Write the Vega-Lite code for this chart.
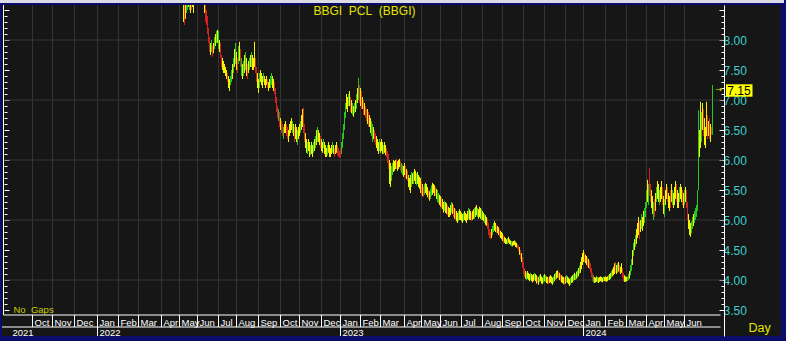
{
"$schema": "https://vega.github.io/schema/vega-lite/v6.json",
"width": 779, "height": 331,
"autosize": {"type": "none"},
"padding": {"left": 2, "top": 5, "right": 5, "bottom": 5},
"background": "#0c0c6c",
"config": {"view": {"fill": "#161616", "stroke": null}, "text": {"font": "Liberation Sans"}},
"datasets": {
"one": [{}],
"grid": [{"p":4},{"p":5},{"p":6},{"p":7},{"p":8}],
"months": [{"m":"Oct","b":32},{"m":"Nov","b":52},{"m":"Dec","b":74},{"m":"Jan","b":97},{"m":"Feb","b":118},{"m":"Mar","b":138},{"m":"Apr","b":161},{"m":"May","b":179},{"m":"Jun","b":197},{"m":"Jul","b":218},{"m":"Aug","b":236},{"m":"Sep","b":258},{"m":"Oct","b":280},{"m":"Nov","b":299},{"m":"Dec","b":321},{"m":"Jan","b":340},{"m":"Feb","b":360},{"m":"Mar","b":380},{"m":"Apr","b":404},{"m":"May","b":421},{"m":"Jun","b":440},{"m":"Jul","b":461},{"m":"Aug","b":482},{"m":"Sep","b":502},{"m":"Oct","b":523},{"m":"Nov","b":544},{"m":"Dec","b":565},{"m":"Jan","b":583},{"m":"Feb","b":605},{"m":"Mar","b":626},{"m":"Apr","b":646},{"m":"May","b":664},{"m":"Jun","b":684}],
"years": [{"yr":"2021","b":10},{"yr":"2022","b":97},{"yr":"2023","b":340},{"yr":"2024","b":583}],
"bars": [
{"d":183,"h":8.8,"l":8.3,"c":"y"},{"d":184,"h":8.75,"l":8.25,"c":"r"},{"d":185,"h":8.7,"l":8.35,"c":"y"},{"d":186,"h":8.8,"l":8.45,"c":"g"},{"d":187,"h":8.9,"l":8.5,"c":"g"},{"d":188,"h":8.75,"l":8.55,"c":"y"},{"d":189,"h":8.8,"l":8.5,"c":"g"},{"d":190,"h":8.9,"l":8.45,"c":"y"},{"d":191,"h":8.85,"l":8.5,"c":"r"},{"d":192,"h":8.95,"l":8.55,"c":"y"},{"d":193,"h":8.9,"l":8.45,"c":"y"},{"d":194,"h":9.0,"l":8.6,"c":"g"},{"d":195,"h":9.1,"l":8.7,"c":"y"},
{"d":204,"h":8.9,"l":8.45,"c":"y"},{"d":205,"h":8.75,"l":8.3,"c":"r"},{"d":206,"h":8.5,"l":8.25,"c":"r"},{"d":207,"h":8.4,"l":8.1,"c":"r"},{"d":208,"h":8.2,"l":7.95,"c":"r"},{"d":209,"h":8.05,"l":7.8,"c":"r"},
{"d":210,"h":7.95,"l":7.75,"c":"y"},{"d":211,"h":8.0,"l":7.8,"c":"g"},{"d":212,"h":7.9,"l":7.72,"c":"r"},{"d":213,"h":7.95,"l":7.78,"c":"y"},{"d":214,"h":8.05,"l":7.85,"c":"g"},{"d":215,"h":8.1,"l":7.9,"c":"y"},{"d":216,"h":8.15,"l":7.95,"c":"g"},{"d":217,"h":8.17,"l":7.95,"c":"y"},{"d":218,"h":8.15,"l":7.85,"c":"g"},{"d":219,"h":8.0,"l":7.8,"c":"y"},{"d":220,"h":7.95,"l":7.7,"c":"r"},
{"d":221,"h":7.75,"l":7.55,"c":"r"},{"d":222,"h":7.7,"l":7.5,"c":"y"},{"d":223,"h":7.65,"l":7.45,"c":"y"},{"d":224,"h":7.6,"l":7.45,"c":"y"},{"d":225,"h":7.55,"l":7.4,"c":"y"},{"d":226,"h":7.5,"l":7.35,"c":"y"},{"d":227,"h":7.45,"l":7.3,"c":"r"},{"d":228,"h":7.4,"l":7.2,"c":"y"},{"d":229,"h":7.35,"l":7.15,"c":"y"},{"d":230,"h":7.4,"l":7.25,"c":"g"},{"d":231,"h":7.5,"l":7.3,"c":"g"},
{"d":232,"h":7.6,"l":7.35,"c":"y"},{"d":233,"h":7.7,"l":7.45,"c":"g"},{"d":234,"h":7.85,"l":7.55,"c":"y"},{"d":235,"h":7.95,"l":7.6,"c":"g"},{"d":236,"h":7.8,"l":7.5,"c":"y"},{"d":237,"h":7.7,"l":7.45,"c":"r"},{"d":238,"h":7.9,"l":7.6,"c":"g"},{"d":239,"h":7.97,"l":7.65,"c":"y"},{"d":240,"h":7.85,"l":7.55,"c":"r"},{"d":241,"h":7.7,"l":7.4,"c":"g"},{"d":242,"h":7.6,"l":7.35,"c":"y"},{"d":243,"h":7.65,"l":7.4,"c":"g"},
{"d":244,"h":7.75,"l":7.45,"c":"y"},{"d":245,"h":7.8,"l":7.5,"c":"g"},{"d":246,"h":7.7,"l":7.4,"c":"y"},{"d":247,"h":7.6,"l":7.35,"c":"r"},{"d":248,"h":7.65,"l":7.45,"c":"y"},{"d":249,"h":7.7,"l":7.5,"c":"g"},{"d":250,"h":7.75,"l":7.55,"c":"y"},{"d":251,"h":7.8,"l":7.55,"c":"g"},{"d":252,"h":7.75,"l":7.5,"c":"y"},{"d":253,"h":7.7,"l":7.5,"c":"y"},{"d":254,"h":7.97,"l":7.55,"c":"y"},{"d":255,"h":7.7,"l":7.45,"c":"r"},{"d":256,"h":7.55,"l":7.3,"c":"r"},{"d":257,"h":7.45,"l":7.2,"c":"y"},{"d":258,"h":7.35,"l":7.12,"c":"y"},
{"d":259,"h":7.45,"l":7.2,"c":"g"},{"d":260,"h":7.5,"l":7.3,"c":"y"},{"d":261,"h":7.45,"l":7.25,"c":"y"},{"d":262,"h":7.4,"l":7.2,"c":"y"},{"d":263,"h":7.45,"l":7.3,"c":"g"},{"d":264,"h":7.4,"l":7.25,"c":"y"},{"d":265,"h":7.35,"l":7.2,"c":"y"},{"d":266,"h":7.4,"l":7.25,"c":"y"},{"d":267,"h":7.35,"l":7.2,"c":"r"},{"d":268,"h":7.3,"l":7.15,"c":"y"},{"d":269,"h":7.35,"l":7.2,"c":"y"},{"d":270,"h":7.4,"l":7.2,"c":"g"},{"d":271,"h":7.45,"l":7.25,"c":"g"},{"d":272,"h":7.4,"l":7.2,"c":"y"},{"d":273,"h":7.35,"l":7.15,"c":"y"},{"d":274,"h":7.3,"l":7.1,"c":"r"},
{"d":275,"h":7.2,"l":6.95,"c":"r"},{"d":276,"h":7.05,"l":6.8,"c":"r"},{"d":277,"h":6.9,"l":6.7,"c":"r"},{"d":278,"h":6.85,"l":6.65,"c":"g"},{"d":279,"h":6.8,"l":6.55,"c":"r"},{"d":280,"h":6.7,"l":6.5,"c":"y"},{"d":281,"h":6.65,"l":6.45,"c":"r"},{"d":282,"h":6.6,"l":6.4,"c":"r"},{"d":283,"h":6.55,"l":6.35,"c":"g"},{"d":284,"h":6.6,"l":6.45,"c":"y"},{"d":285,"h":6.65,"l":6.45,"c":"y"},{"d":286,"h":6.6,"l":6.4,"c":"r"},{"d":287,"h":6.55,"l":6.35,"c":"r"},{"d":288,"h":6.5,"l":6.3,"c":"y"},
{"d":289,"h":6.6,"l":6.4,"c":"y"},{"d":290,"h":6.65,"l":6.45,"c":"y"},{"d":291,"h":6.7,"l":6.5,"c":"y"},{"d":292,"h":6.65,"l":6.45,"c":"g"},{"d":293,"h":6.6,"l":6.4,"c":"y"},{"d":294,"h":6.55,"l":6.3,"c":"r"},{"d":295,"h":6.6,"l":6.35,"c":"y"},{"d":296,"h":6.55,"l":6.3,"c":"y"},{"d":297,"h":6.5,"l":6.25,"c":"g"},{"d":298,"h":6.55,"l":6.35,"c":"y"},{"d":299,"h":6.6,"l":6.4,"c":"y"},{"d":300,"h":6.65,"l":6.45,"c":"g"},{"d":301,"h":6.75,"l":6.5,"c":"y"},{"d":302,"h":6.85,"l":6.55,"c":"y"},{"d":303,"h":6.87,"l":6.45,"c":"r"},{"d":304,"h":6.6,"l":6.3,"c":"r"},
{"d":305,"h":6.45,"l":6.2,"c":"y"},{"d":306,"h":6.35,"l":6.12,"c":"y"},{"d":307,"h":6.3,"l":6.1,"c":"g"},{"d":308,"h":6.35,"l":6.15,"c":"y"},{"d":309,"h":6.3,"l":6.05,"c":"y"},{"d":310,"h":6.25,"l":6.08,"c":"g"},{"d":311,"h":6.3,"l":6.1,"c":"y"},{"d":312,"h":6.25,"l":6.05,"c":"y"},{"d":313,"h":6.3,"l":6.12,"c":"g"},{"d":314,"h":6.35,"l":6.15,"c":"y"},{"d":315,"h":6.4,"l":6.2,"c":"g"},{"d":316,"h":6.5,"l":6.25,"c":"y"},{"d":317,"h":6.55,"l":6.3,"c":"g"},{"d":318,"h":6.5,"l":6.3,"c":"y"},{"d":319,"h":6.45,"l":6.25,"c":"y"},{"d":320,"h":6.4,"l":6.2,"c":"r"},
{"d":321,"h":6.35,"l":6.15,"c":"y"},{"d":322,"h":6.3,"l":6.12,"c":"y"},{"d":323,"h":6.35,"l":6.2,"c":"g"},{"d":324,"h":6.3,"l":6.1,"c":"y"},{"d":325,"h":6.25,"l":6.05,"c":"y"},{"d":326,"h":6.2,"l":6.05,"c":"y"},{"d":327,"h":6.25,"l":6.08,"c":"g"},{"d":328,"h":6.3,"l":6.12,"c":"y"},{"d":329,"h":6.25,"l":6.05,"c":"y"},{"d":330,"h":6.2,"l":6.05,"c":"y"},{"d":331,"h":6.25,"l":6.1,"c":"y"},{"d":332,"h":6.3,"l":6.12,"c":"g"},{"d":333,"h":6.25,"l":6.1,"c":"y"},{"d":334,"h":6.2,"l":6.05,"c":"r"},{"d":335,"h":6.25,"l":6.1,"c":"y"},{"d":336,"h":6.3,"l":6.12,"c":"y"},{"d":337,"h":6.25,"l":6.08,"c":"r"},{"d":338,"h":6.2,"l":6.05,"c":"r"},{"d":339,"h":6.15,"l":6.03,"c":"r"},{"d":340,"h":6.2,"l":6.05,"c":"r"},
{"d":341,"h":6.3,"l":6.1,"c":"g"},{"d":342,"h":6.45,"l":6.2,"c":"g"},{"d":343,"h":6.6,"l":6.35,"c":"g"},{"d":344,"h":6.8,"l":6.5,"c":"g"},{"d":345,"h":6.95,"l":6.7,"c":"g"},{"d":346,"h":7.1,"l":6.85,"c":"y"},{"d":347,"h":7.05,"l":6.8,"c":"y"},{"d":348,"h":7.1,"l":6.9,"c":"g"},{"d":349,"h":7.15,"l":6.9,"c":"y"},{"d":350,"h":7.05,"l":6.8,"c":"r"},{"d":351,"h":7.0,"l":6.78,"c":"y"},{"d":352,"h":6.95,"l":6.75,"c":"g"},{"d":353,"h":6.9,"l":6.72,"c":"y"},{"d":354,"h":6.95,"l":6.78,"c":"g"},{"d":355,"h":7.0,"l":6.8,"c":"y"},{"d":356,"h":7.1,"l":6.85,"c":"g"},{"d":357,"h":7.2,"l":6.95,"c":"y"},{"d":358,"h":7.37,"l":7.0,"c":"g"},{"d":359,"h":7.25,"l":6.95,"c":"r"},{"d":360,"h":7.2,"l":6.9,"c":"y"},
{"d":361,"h":7.15,"l":6.85,"c":"r"},{"d":362,"h":7.05,"l":6.85,"c":"y"},{"d":363,"h":7.0,"l":6.75,"c":"r"},{"d":364,"h":6.95,"l":6.75,"c":"y"},{"d":365,"h":6.9,"l":6.7,"c":"r"},{"d":366,"h":6.85,"l":6.65,"c":"r"},{"d":367,"h":6.85,"l":6.6,"c":"y"},{"d":368,"h":6.8,"l":6.55,"c":"r"},{"d":369,"h":6.75,"l":6.55,"c":"y"},{"d":370,"h":6.7,"l":6.45,"c":"y"},{"d":371,"h":6.65,"l":6.4,"c":"g"},{"d":372,"h":6.6,"l":6.3,"c":"g"},{"d":373,"h":6.55,"l":6.35,"c":"y"},{"d":374,"h":6.5,"l":6.3,"c":"r"},{"d":375,"h":6.45,"l":6.25,"c":"r"},{"d":376,"h":6.4,"l":6.2,"c":"y"},{"d":377,"h":6.35,"l":6.15,"c":"y"},{"d":378,"h":6.3,"l":6.1,"c":"y"},{"d":379,"h":6.35,"l":6.15,"c":"g"},{"d":380,"h":6.3,"l":6.12,"c":"y"},
{"d":381,"h":6.35,"l":6.15,"c":"y"},{"d":382,"h":6.3,"l":6.1,"c":"y"},{"d":383,"h":6.25,"l":6.1,"c":"g"},{"d":384,"h":6.3,"l":6.12,"c":"y"},{"d":385,"h":6.25,"l":6.08,"c":"y"},{"d":386,"h":6.2,"l":6.05,"c":"r"},{"d":387,"h":6.15,"l":5.95,"c":"r"},{"d":388,"h":6.1,"l":5.85,"c":"r"},{"d":389,"h":6.0,"l":5.6,"c":"y"},{"d":390,"h":5.95,"l":5.55,"c":"y"},{"d":391,"h":5.9,"l":5.65,"c":"g"},{"d":392,"h":5.95,"l":5.75,"c":"g"},{"d":393,"h":6.0,"l":5.8,"c":"y"},{"d":394,"h":5.98,"l":5.82,"c":"y"},{"d":395,"h":6.0,"l":5.85,"c":"y"},{"d":396,"h":6.02,"l":5.85,"c":"r"},{"d":397,"h":5.98,"l":5.82,"c":"y"},{"d":398,"h":6.0,"l":5.85,"c":"y"},{"d":399,"h":6.02,"l":5.88,"c":"y"},{"d":400,"h":5.98,"l":5.82,"c":"r"},
{"d":401,"h":5.95,"l":5.78,"c":"g"},{"d":402,"h":5.92,"l":5.75,"c":"g"},{"d":403,"h":5.9,"l":5.72,"c":"y"},{"d":404,"h":5.95,"l":5.75,"c":"y"},{"d":405,"h":5.9,"l":5.7,"c":"r"},{"d":406,"h":5.85,"l":5.68,"c":"y"},{"d":407,"h":5.82,"l":5.65,"c":"r"},{"d":408,"h":5.75,"l":5.55,"c":"y"},{"d":409,"h":5.7,"l":5.5,"c":"y"},{"d":410,"h":5.75,"l":5.45,"c":"y"},{"d":411,"h":5.8,"l":5.55,"c":"g"},{"d":412,"h":5.78,"l":5.6,"c":"y"},{"d":413,"h":5.8,"l":5.6,"c":"g"},{"d":414,"h":5.85,"l":5.65,"c":"y"},{"d":415,"h":5.82,"l":5.6,"c":"y"},{"d":416,"h":5.78,"l":5.58,"c":"g"},{"d":417,"h":5.8,"l":5.6,"c":"y"},{"d":418,"h":5.75,"l":5.55,"c":"y"},{"d":419,"h":5.72,"l":5.52,"c":"y"},{"d":420,"h":5.7,"l":5.45,"c":"y"},
{"d":421,"h":5.65,"l":5.42,"c":"r"},{"d":422,"h":5.6,"l":5.4,"c":"y"},{"d":423,"h":5.55,"l":5.38,"c":"r"},{"d":424,"h":5.6,"l":5.42,"c":"g"},{"d":425,"h":5.62,"l":5.45,"c":"y"},{"d":426,"h":5.6,"l":5.42,"c":"y"},{"d":427,"h":5.55,"l":5.38,"c":"y"},{"d":428,"h":5.5,"l":5.35,"c":"r"},{"d":429,"h":5.48,"l":5.32,"c":"y"},{"d":430,"h":5.52,"l":5.35,"c":"g"},{"d":431,"h":5.58,"l":5.4,"c":"g"},{"d":432,"h":5.62,"l":5.42,"c":"y"},{"d":433,"h":5.6,"l":5.45,"c":"y"},{"d":434,"h":5.58,"l":5.4,"c":"y"},{"d":435,"h":5.55,"l":5.4,"c":"r"},{"d":436,"h":5.52,"l":5.35,"c":"y"},{"d":437,"h":5.5,"l":5.3,"c":"g"},{"d":438,"h":5.45,"l":5.28,"c":"g"},{"d":439,"h":5.42,"l":5.25,"c":"y"},{"d":440,"h":5.4,"l":5.22,"c":"y"},
{"d":441,"h":5.38,"l":5.2,"c":"r"},{"d":442,"h":5.35,"l":5.18,"c":"y"},{"d":443,"h":5.3,"l":5.12,"c":"y"},{"d":444,"h":5.32,"l":5.15,"c":"g"},{"d":445,"h":5.3,"l":5.12,"c":"y"},{"d":446,"h":5.28,"l":5.1,"c":"y"},{"d":447,"h":5.25,"l":5.08,"c":"r"},{"d":448,"h":5.22,"l":5.05,"c":"y"},{"d":449,"h":5.2,"l":5.05,"c":"y"},{"d":450,"h":5.25,"l":5.08,"c":"y"},{"d":451,"h":5.3,"l":5.12,"c":"g"},{"d":452,"h":5.28,"l":5.1,"c":"y"},{"d":453,"h":5.25,"l":5.05,"c":"r"},{"d":454,"h":5.2,"l":5.02,"c":"y"},{"d":455,"h":5.18,"l":5.0,"c":"r"},{"d":456,"h":5.15,"l":4.98,"c":"y"},{"d":457,"h":5.12,"l":4.95,"c":"y"},{"d":458,"h":5.15,"l":4.98,"c":"g"},{"d":459,"h":5.18,"l":5.0,"c":"y"},{"d":460,"h":5.15,"l":5.0,"c":"y"},
{"d":461,"h":5.12,"l":4.98,"c":"y"},{"d":462,"h":5.1,"l":4.95,"c":"y"},{"d":463,"h":5.12,"l":4.98,"c":"g"},{"d":464,"h":5.15,"l":5.0,"c":"y"},{"d":465,"h":5.12,"l":4.98,"c":"y"},{"d":466,"h":5.1,"l":4.95,"c":"y"},{"d":467,"h":5.15,"l":5.0,"c":"y"},{"d":468,"h":5.2,"l":5.02,"c":"g"},{"d":469,"h":5.18,"l":5.0,"c":"y"},{"d":470,"h":5.15,"l":5.0,"c":"y"},{"d":471,"h":5.12,"l":4.98,"c":"r"},{"d":472,"h":5.15,"l":5.0,"c":"y"},{"d":473,"h":5.18,"l":5.02,"c":"y"},{"d":474,"h":5.2,"l":5.02,"c":"g"},{"d":475,"h":5.22,"l":5.05,"c":"y"},{"d":476,"h":5.25,"l":5.08,"c":"y"},{"d":477,"h":5.2,"l":5.05,"c":"g"},{"d":478,"h":5.18,"l":5.02,"c":"y"},{"d":479,"h":5.22,"l":5.05,"c":"y"},{"d":480,"h":5.2,"l":5.02,"c":"y"},
{"d":481,"h":5.18,"l":5.0,"c":"g"},{"d":482,"h":5.15,"l":5.0,"c":"y"},{"d":483,"h":5.12,"l":4.98,"c":"y"},{"d":484,"h":5.1,"l":4.95,"c":"g"},{"d":485,"h":5.08,"l":4.92,"c":"y"},{"d":486,"h":5.05,"l":4.9,"c":"y"},{"d":487,"h":5.02,"l":4.85,"c":"r"},{"d":488,"h":4.95,"l":4.75,"c":"r"},{"d":489,"h":4.85,"l":4.7,"c":"r"},{"d":490,"h":4.8,"l":4.68,"c":"r"},{"d":491,"h":4.85,"l":4.7,"c":"y"},{"d":492,"h":4.9,"l":4.75,"c":"g"},{"d":493,"h":4.95,"l":4.8,"c":"g"},{"d":494,"h":4.98,"l":4.82,"c":"y"},{"d":495,"h":4.95,"l":4.8,"c":"y"},{"d":496,"h":4.92,"l":4.78,"c":"r"},{"d":497,"h":4.9,"l":4.78,"c":"y"},{"d":498,"h":4.88,"l":4.75,"c":"y"},{"d":499,"h":4.85,"l":4.72,"c":"r"},{"d":500,"h":4.82,"l":4.7,"c":"y"},
{"d":501,"h":4.8,"l":4.68,"c":"y"},{"d":502,"h":4.78,"l":4.65,"c":"y"},{"d":503,"h":4.75,"l":4.62,"c":"r"},{"d":504,"h":4.72,"l":4.62,"c":"y"},{"d":505,"h":4.7,"l":4.6,"c":"y"},{"d":506,"h":4.68,"l":4.6,"c":"y"},{"d":507,"h":4.7,"l":4.6,"c":"g"},{"d":508,"h":4.72,"l":4.62,"c":"y"},{"d":509,"h":4.68,"l":4.6,"c":"y"},{"d":510,"h":4.66,"l":4.58,"c":"y"},{"d":511,"h":4.65,"l":4.56,"c":"g"},{"d":512,"h":4.64,"l":4.56,"c":"y"},{"d":513,"h":4.65,"l":4.58,"c":"y"},{"d":514,"h":4.66,"l":4.58,"c":"y"},{"d":515,"h":4.64,"l":4.55,"c":"y"},{"d":516,"h":4.62,"l":4.54,"c":"y"},{"d":517,"h":4.6,"l":4.52,"c":"r"},{"d":518,"h":4.58,"l":4.48,"c":"r"},{"d":519,"h":4.55,"l":4.42,"c":"y"},{"d":520,"h":4.5,"l":4.35,"c":"r"},
{"d":521,"h":4.45,"l":4.3,"c":"y"},{"d":522,"h":4.38,"l":4.2,"c":"r"},{"d":523,"h":4.3,"l":4.1,"c":"r"},{"d":524,"h":4.2,"l":4.05,"c":"r"},{"d":525,"h":4.15,"l":4.02,"c":"y"},{"d":526,"h":4.12,"l":4.0,"c":"g"},{"d":527,"h":4.15,"l":4.02,"c":"y"},{"d":528,"h":4.12,"l":4.0,"c":"y"},{"d":529,"h":4.1,"l":3.98,"c":"y"},{"d":530,"h":4.12,"l":4.0,"c":"g"},{"d":531,"h":4.1,"l":3.98,"c":"y"},{"d":532,"h":4.08,"l":3.96,"c":"y"},{"d":533,"h":4.1,"l":3.98,"c":"y"},{"d":534,"h":4.12,"l":4.0,"c":"g"},{"d":535,"h":4.1,"l":3.98,"c":"y"},{"d":536,"h":4.08,"l":3.94,"c":"y"},{"d":537,"h":4.06,"l":3.95,"c":"r"},{"d":538,"h":4.05,"l":3.92,"c":"y"},{"d":539,"h":4.08,"l":3.96,"c":"g"},{"d":540,"h":4.1,"l":3.98,"c":"y"},
{"d":541,"h":4.06,"l":3.94,"c":"y"},{"d":542,"h":4.04,"l":3.93,"c":"y"},{"d":543,"h":4.08,"l":3.96,"c":"g"},{"d":544,"h":4.1,"l":3.98,"c":"y"},{"d":545,"h":4.08,"l":3.97,"c":"g"},{"d":546,"h":4.06,"l":3.95,"c":"y"},{"d":547,"h":4.05,"l":3.94,"c":"y"},{"d":548,"h":4.04,"l":3.93,"c":"r"},{"d":549,"h":4.06,"l":3.95,"c":"y"},{"d":550,"h":4.08,"l":3.96,"c":"y"},{"d":551,"h":4.06,"l":3.94,"c":"y"},{"d":552,"h":4.04,"l":3.92,"c":"y"},{"d":553,"h":4.06,"l":3.95,"c":"g"},{"d":554,"h":4.1,"l":3.98,"c":"y"},{"d":555,"h":4.12,"l":4.0,"c":"g"},{"d":556,"h":4.15,"l":4.02,"c":"y"},{"d":557,"h":4.16,"l":4.04,"c":"y"},{"d":558,"h":4.14,"l":4.02,"c":"r"},{"d":559,"h":4.12,"l":4.0,"c":"y"},{"d":560,"h":4.1,"l":3.98,"c":"r"},
{"d":561,"h":4.08,"l":3.96,"c":"y"},{"d":562,"h":4.06,"l":3.95,"c":"y"},{"d":563,"h":4.05,"l":3.93,"c":"y"},{"d":564,"h":4.04,"l":3.92,"c":"r"},{"d":565,"h":4.06,"l":3.94,"c":"y"},{"d":566,"h":4.08,"l":3.96,"c":"g"},{"d":567,"h":4.06,"l":3.95,"c":"y"},{"d":568,"h":4.04,"l":3.93,"c":"y"},{"d":569,"h":4.02,"l":3.9,"c":"y"},{"d":570,"h":4.04,"l":3.92,"c":"g"},{"d":571,"h":4.06,"l":3.95,"c":"y"},{"d":572,"h":4.08,"l":3.96,"c":"y"},{"d":573,"h":4.1,"l":3.98,"c":"g"},{"d":574,"h":4.12,"l":4.0,"c":"y"},{"d":575,"h":4.1,"l":4.0,"c":"g"},{"d":576,"h":4.14,"l":4.02,"c":"y"},{"d":577,"h":4.16,"l":4.04,"c":"g"},{"d":578,"h":4.2,"l":4.06,"c":"y"},{"d":579,"h":4.24,"l":4.1,"c":"g"},{"d":580,"h":4.3,"l":4.12,"c":"y"},
{"d":581,"h":4.38,"l":4.18,"c":"y"},{"d":582,"h":4.45,"l":4.25,"c":"y"},{"d":583,"h":4.5,"l":4.3,"c":"y"},{"d":584,"h":4.46,"l":4.3,"c":"r"},{"d":585,"h":4.42,"l":4.28,"c":"y"},{"d":586,"h":4.4,"l":4.25,"c":"y"},{"d":587,"h":4.38,"l":4.22,"c":"r"},{"d":588,"h":4.35,"l":4.2,"c":"y"},{"d":589,"h":4.32,"l":4.18,"c":"r"},{"d":590,"h":4.28,"l":4.12,"c":"r"},{"d":591,"h":4.2,"l":4.04,"c":"r"},{"d":592,"h":4.12,"l":3.98,"c":"r"},{"d":593,"h":4.08,"l":3.96,"c":"g"},{"d":594,"h":4.05,"l":3.95,"c":"y"},{"d":595,"h":4.04,"l":3.96,"c":"y"},{"d":596,"h":4.06,"l":3.97,"c":"y"},{"d":597,"h":4.05,"l":3.96,"c":"g"},{"d":598,"h":4.04,"l":3.95,"c":"y"},{"d":599,"h":4.05,"l":3.97,"c":"y"},{"d":600,"h":4.06,"l":3.98,"c":"y"},
{"d":601,"h":4.05,"l":3.97,"c":"y"},{"d":602,"h":4.04,"l":3.96,"c":"y"},{"d":603,"h":4.06,"l":3.98,"c":"g"},{"d":604,"h":4.05,"l":3.98,"c":"y"},{"d":605,"h":4.06,"l":3.98,"c":"y"},{"d":606,"h":4.05,"l":3.97,"c":"y"},{"d":607,"h":4.06,"l":3.98,"c":"y"},{"d":608,"h":4.08,"l":4.0,"c":"g"},{"d":609,"h":4.1,"l":4.0,"c":"y"},{"d":610,"h":4.12,"l":4.02,"c":"y"},{"d":611,"h":4.15,"l":4.04,"c":"g"},{"d":612,"h":4.18,"l":4.06,"c":"y"},{"d":613,"h":4.22,"l":4.08,"c":"y"},{"d":614,"h":4.28,"l":4.1,"c":"y"},{"d":615,"h":4.3,"l":4.12,"c":"r"},{"d":616,"h":4.25,"l":4.1,"c":"y"},{"d":617,"h":4.28,"l":4.12,"c":"g"},{"d":618,"h":4.3,"l":4.14,"c":"y"},{"d":619,"h":4.25,"l":4.12,"c":"r"},{"d":620,"h":4.22,"l":4.1,"c":"y"},
{"d":621,"h":4.28,"l":4.12,"c":"y"},{"d":622,"h":4.2,"l":4.04,"c":"r"},{"d":623,"h":4.12,"l":3.98,"c":"r"},{"d":624,"h":4.08,"l":3.97,"c":"y"},{"d":625,"h":4.06,"l":3.97,"c":"y"},{"d":626,"h":4.05,"l":3.98,"c":"y"},{"d":627,"h":4.06,"l":3.98,"c":"g"},{"d":628,"h":4.1,"l":4.0,"c":"g"},{"d":629,"h":4.15,"l":4.02,"c":"y"},{"d":630,"h":4.25,"l":4.08,"c":"g"},{"d":631,"h":4.35,"l":4.15,"c":"g"},{"d":632,"h":4.5,"l":4.25,"c":"y"},{"d":633,"h":4.62,"l":4.4,"c":"g"},{"d":634,"h":4.68,"l":4.5,"c":"y"},{"d":635,"h":4.75,"l":4.55,"c":"g"},{"d":636,"h":4.85,"l":4.6,"c":"y"},{"d":637,"h":4.95,"l":4.7,"c":"y"},{"d":638,"h":5.05,"l":4.75,"c":"y"},{"d":639,"h":4.98,"l":4.68,"c":"r"},{"d":640,"h":5.0,"l":4.8,"c":"y"},
{"d":641,"h":5.1,"l":4.85,"c":"g"},{"d":642,"h":5.05,"l":4.82,"c":"y"},{"d":643,"h":5.15,"l":4.9,"c":"y"},{"d":644,"h":5.2,"l":4.95,"c":"g"},{"d":645,"h":5.3,"l":5.05,"c":"g"},{"d":646,"h":5.5,"l":5.2,"c":"g"},{"d":647,"h":5.67,"l":5.3,"c":"y"},{"d":648,"h":5.6,"l":5.25,"c":"g"},{"d":649,"h":5.87,"l":5.4,"c":"r"},{"d":650,"h":5.6,"l":5.3,"c":"r"},{"d":651,"h":5.5,"l":5.2,"c":"y"},{"d":652,"h":5.4,"l":5.1,"c":"y"},{"d":653,"h":5.3,"l":5.0,"c":"g"},{"d":654,"h":5.35,"l":5.05,"c":"r"},{"d":655,"h":5.45,"l":5.15,"c":"y"},{"d":656,"h":5.55,"l":5.3,"c":"g"},{"d":657,"h":5.65,"l":5.35,"c":"y"},{"d":658,"h":5.6,"l":5.3,"c":"y"},{"d":659,"h":5.5,"l":5.25,"c":"g"},{"d":660,"h":5.55,"l":5.3,"c":"y"},
{"d":661,"h":5.65,"l":5.35,"c":"y"},{"d":662,"h":5.55,"l":5.25,"c":"r"},{"d":663,"h":5.4,"l":5.1,"c":"y"},{"d":664,"h":5.35,"l":5.05,"c":"g"},{"d":665,"h":5.5,"l":5.25,"c":"y"},{"d":666,"h":5.6,"l":5.35,"c":"y"},{"d":667,"h":5.55,"l":5.3,"c":"r"},{"d":668,"h":5.45,"l":5.2,"c":"y"},{"d":669,"h":5.4,"l":5.15,"c":"y"},{"d":670,"h":5.5,"l":5.2,"c":"r"},{"d":671,"h":5.6,"l":5.3,"c":"y"},{"d":672,"h":5.5,"l":5.25,"c":"g"},{"d":673,"h":5.45,"l":5.2,"c":"y"},{"d":674,"h":5.55,"l":5.25,"c":"y"},{"d":675,"h":5.65,"l":5.35,"c":"y"},{"d":676,"h":5.6,"l":5.3,"c":"r"},{"d":677,"h":5.5,"l":5.2,"c":"y"},{"d":678,"h":5.45,"l":5.2,"c":"y"},{"d":679,"h":5.55,"l":5.3,"c":"g"},{"d":680,"h":5.6,"l":5.35,"c":"y"},
{"d":681,"h":5.55,"l":5.3,"c":"y"},{"d":682,"h":5.5,"l":5.25,"c":"r"},{"d":683,"h":5.45,"l":5.2,"c":"y"},{"d":684,"h":5.5,"l":5.25,"c":"g"},{"d":685,"h":5.55,"l":5.3,"c":"y"},{"d":686,"h":5.5,"l":5.2,"c":"r"},{"d":687,"h":5.3,"l":5.0,"c":"r"},{"d":688,"h":5.1,"l":4.85,"c":"y"},{"d":689,"h":5.0,"l":4.75,"c":"y"},{"d":690,"h":4.95,"l":4.72,"c":"y"},{"d":691,"h":4.98,"l":4.78,"c":"g"},{"d":692,"h":5.05,"l":4.85,"c":"g"},{"d":693,"h":5.1,"l":4.9,"c":"y"},{"d":694,"h":5.15,"l":4.95,"c":"g"},{"d":695,"h":5.2,"l":5.0,"c":"g"},{"d":696,"h":5.25,"l":5.05,"c":"g"},{"d":697,"h":5.5,"l":5.15,"c":"g"},{"d":698,"h":6.83,"l":5.5,"c":"g"},{"d":699,"h":6.5,"l":6.05,"c":"y"},{"d":700,"h":6.97,"l":6.2,"c":"y"},
{"d":701,"h":6.8,"l":6.3,"c":"g"},{"d":702,"h":6.95,"l":6.5,"c":"y"},{"d":703,"h":6.85,"l":6.4,"c":"r"},{"d":704,"h":6.7,"l":6.25,"c":"y"},{"d":705,"h":6.55,"l":6.2,"c":"y"},{"d":706,"h":6.97,"l":6.4,"c":"y"},{"d":707,"h":6.75,"l":6.35,"c":"r"},{"d":708,"h":6.65,"l":6.4,"c":"y"},{"d":709,"h":6.7,"l":6.35,"c":"r"},{"d":710,"h":6.6,"l":6.3,"c":"y"},{"d":711,"h":6.55,"l":6.42,"c":"r"},{"d":712,"h":7.25,"l":6.42,"c":"g"}
]
},
"layer": [
{
"data": {"name": "grid"},
"mark": {"type": "rule", "color": "#343434", "strokeWidth": 1},
"encoding": {
"y": {"field": "p", "type": "quantitative",
"scale": {"domain": [3.0666667, 8.5833333], "nice": false, "zero": false},
"axis": {"orient": "left", "offset": -2, "domain": false, "grid": false, "labels": false, "title": null, "ticks": true, "tickColor": "#ffffff", "tickWidth": 1,
"values": [3.5,3.6,3.7,3.8,3.9,4.0,4.1,4.2,4.3,4.4,4.5,4.6,4.7,4.8,4.9,5.0,5.1,5.2,5.3,5.4,5.5,5.6,5.7,5.8,5.9,6.0,6.1,6.2,6.3,6.4,6.5,6.6,6.7,6.8,6.9,7.0,7.1,7.2,7.3,7.4,7.5,7.6,7.7,7.8,7.9,8.0,8.1,8.2,8.3,8.4,8.5],
"tickSize": {"condition": {"test": "abs(datum.value*2-round(datum.value*2))<0.01", "value": -5}, "value": -3}}},
"x": {"datum": 4, "type": "quantitative", "scale": {"domain": [1.5, 780.5], "nice": false, "zero": false}, "axis": null},
"x2": {"datum": 723}
}
},
{
"data": {"name": "months"},
"mark": {"type": "rule", "color": "#343434", "strokeWidth": 1},
"encoding": {
"x": {"field": "b", "type": "quantitative", "axis": null},
"y": {"datum": 3.4166667, "type": "quantitative", "axis": null},
"y2": {"datum": 8.5833333}
}
},
{
"data": {"name": "bars"},
"mark": {"type": "rule", "strokeWidth": 1, "clip": true},
"encoding": {
"x": {"field": "d", "type": "quantitative", "axis": null},
"y": {"field": "h", "type": "quantitative",
"axis": {"orient": "right", "offset": -57, "domain": true, "domainColor": "#ffffff", "grid": false, "title": null, "ticks": true, "tickColor": "#ffffff", "tickWidth": 1,
"values": [3.5,3.6,3.7,3.8,3.9,4.0,4.1,4.2,4.3,4.4,4.5,4.6,4.7,4.8,4.9,5.0,5.1,5.2,5.3,5.4,5.5,5.6,5.7,5.8,5.9,6.0,6.1,6.2,6.3,6.4,6.5,6.6,6.7,6.8,6.9,7.0,7.1,7.2,7.3,7.4,7.5,7.6,7.7,7.8,7.9,8.0,8.1,8.2,8.3,8.4,8.5],
"tickSize": {"condition": {"test": "abs(datum.value*2-round(datum.value*2))<0.01", "value": -5}, "value": -3},
"labelExpr": "datum.value < 8.05 && abs(datum.value*2-round(datum.value*2)) < 0.01 ? format(datum.value, '.2f') : ''",
"labelColor": "#3ccfcf", "labelFont": "Liberation Sans", "labelFontSize": 12, "labelPadding": 4, "labelOverlap": false, "labelFlush": false, "labelBound": false}},
"y2": {"field": "l"},
"color": {"field": "c", "type": "nominal", "scale": {"domain": ["g", "r", "y"], "range": ["#22c822", "#d42020", "#f4f400"]}, "legend": null}
}
},
{
"data": {"name": "one"},
"mark": {"type": "rect", "color": "#dcdce6", "clip": false},
"encoding": {"x": {"datum": -0.5, "type": "quantitative", "axis": null}, "x2": {"datum": 783.5}, "y": {"datum": 8.6666667, "type": "quantitative", "axis": null}, "y2": {"datum": 8.6166667}}
},
{
"data": {"name": "one"},
"mark": {"type": "rule", "color": "#ffffff", "strokeWidth": 1},
"encoding": {"x": {"datum": 3, "type": "quantitative", "axis": null}, "y": {"datum": 3.4166667, "type": "quantitative", "axis": null}, "y2": {"datum": 8.5833333}}
},
{
"data": {"name": "one"},
"mark": {"type": "rule", "color": "#ffffff", "strokeWidth": 1},
"encoding": {"x": {"datum": 3, "type": "quantitative", "axis": null}, "x2": {"datum": 720}, "y": {"datum": 3.4166667, "type": "quantitative", "axis": null}}
},
{
"data": {"name": "one"},
"mark": {"type": "rule", "color": "#ffffff", "strokeWidth": 1},
"encoding": {"x": {"datum": 1.5, "type": "quantitative", "axis": null}, "x2": {"datum": 720}, "y": {"datum": 3.2166667, "type": "quantitative", "axis": null}}
},
{
"data": {"name": "months"},
"mark": {"type": "rule", "color": "#ffffff", "strokeWidth": 1},
"encoding": {
"x": {"field": "b", "type": "quantitative", "axis": null},
"y": {"datum": 3.4166667, "type": "quantitative", "axis": null}, "y2": {"datum": 3.2166667}
}
},
{
"data": {"name": "months"},
"mark": {"type": "text", "color": "#ffffff", "fontSize": 9.5, "align": "left", "baseline": "alphabetic", "dx": 2},
"encoding": {
"x": {"field": "b", "type": "quantitative", "axis": null},
"y": {"datum": 3.23, "type": "quantitative", "axis": null},
"text": {"field": "m"}
}
},
{
"data": {"name": "years"},
"transform": [{"filter": "datum.b > 20"}],
"mark": {"type": "rule", "color": "#ffffff", "strokeWidth": 1},
"encoding": {
"x": {"field": "b", "type": "quantitative", "axis": null},
"y": {"datum": 3.2166667, "type": "quantitative", "axis": null}, "y2": {"datum": 3.0666667}
}
},
{
"data": {"name": "years"},
"mark": {"type": "text", "color": "#ffffff", "fontSize": 9.5, "align": "left", "baseline": "alphabetic", "dx": 2},
"encoding": {
"x": {"field": "b", "type": "quantitative", "axis": null},
"y": {"datum": 3.07, "type": "quantitative", "axis": null},
"text": {"field": "yr"}
}
},
{
"data": {"name": "one"},
"mark": {"type": "text", "color": "#e4e400", "fontSize": 12, "align": "center", "baseline": "top"},
"encoding": {"x": {"datum": 364, "type": "quantitative", "axis": null}, "y": {"datum": 8.57, "type": "quantitative", "axis": null}, "text": {"value": "BBGI\u00a0\u00a0PCL\u00a0\u00a0(BBGI)"}}
},
{
"data": {"name": "one"},
"mark": {"type": "text", "color": "#cccc00", "fontSize": 9.5, "align": "left", "baseline": "alphabetic"},
"encoding": {"x": {"datum": 13, "type": "quantitative", "axis": null}, "y": {"datum": 3.45, "type": "quantitative", "axis": null}, "text": {"value": "No\u00a0\u00a0Gaps"}}
},
{
"data": {"name": "one"},
"mark": {"type": "text", "color": "#e4e400", "fontSize": 12.5, "align": "left", "baseline": "alphabetic"},
"encoding": {"x": {"datum": 748, "type": "quantitative", "axis": null}, "y": {"datum": 3.135, "type": "quantitative", "axis": null}, "text": {"value": "Day"}}
},
{
"data": {"name": "one"},
"mark": {"type": "rect", "color": "#ffff00"},
"encoding": {"x": {"datum": 725.5, "type": "quantitative", "axis": null}, "x2": {"datum": 752}, "y": {"datum": 7.262, "type": "quantitative", "axis": null}, "y2": {"datum": 7.055}}
},
{
"data": {"name": "one"},
"mark": {"type": "text", "color": "#000000", "fontSize": 12, "align": "center", "baseline": "middle"},
"encoding": {"x": {"datum": 738.5, "type": "quantitative", "axis": null}, "y": {"datum": 7.155, "type": "quantitative", "axis": null}, "text": {"value": "7.15"}}
},
{
"data": {"name": "one"},
"mark": {"type": "text", "color": "#f4f400", "fontSize": 8, "font": "DejaVu Sans", "align": "left", "baseline": "middle"},
"encoding": {"x": {"datum": 715, "type": "quantitative", "axis": null}, "y": {"datum": 7.16, "type": "quantitative", "axis": null}, "text": {"value": "→"}}
}
],
"resolve": {"axis": {"y": "independent"}}
}
